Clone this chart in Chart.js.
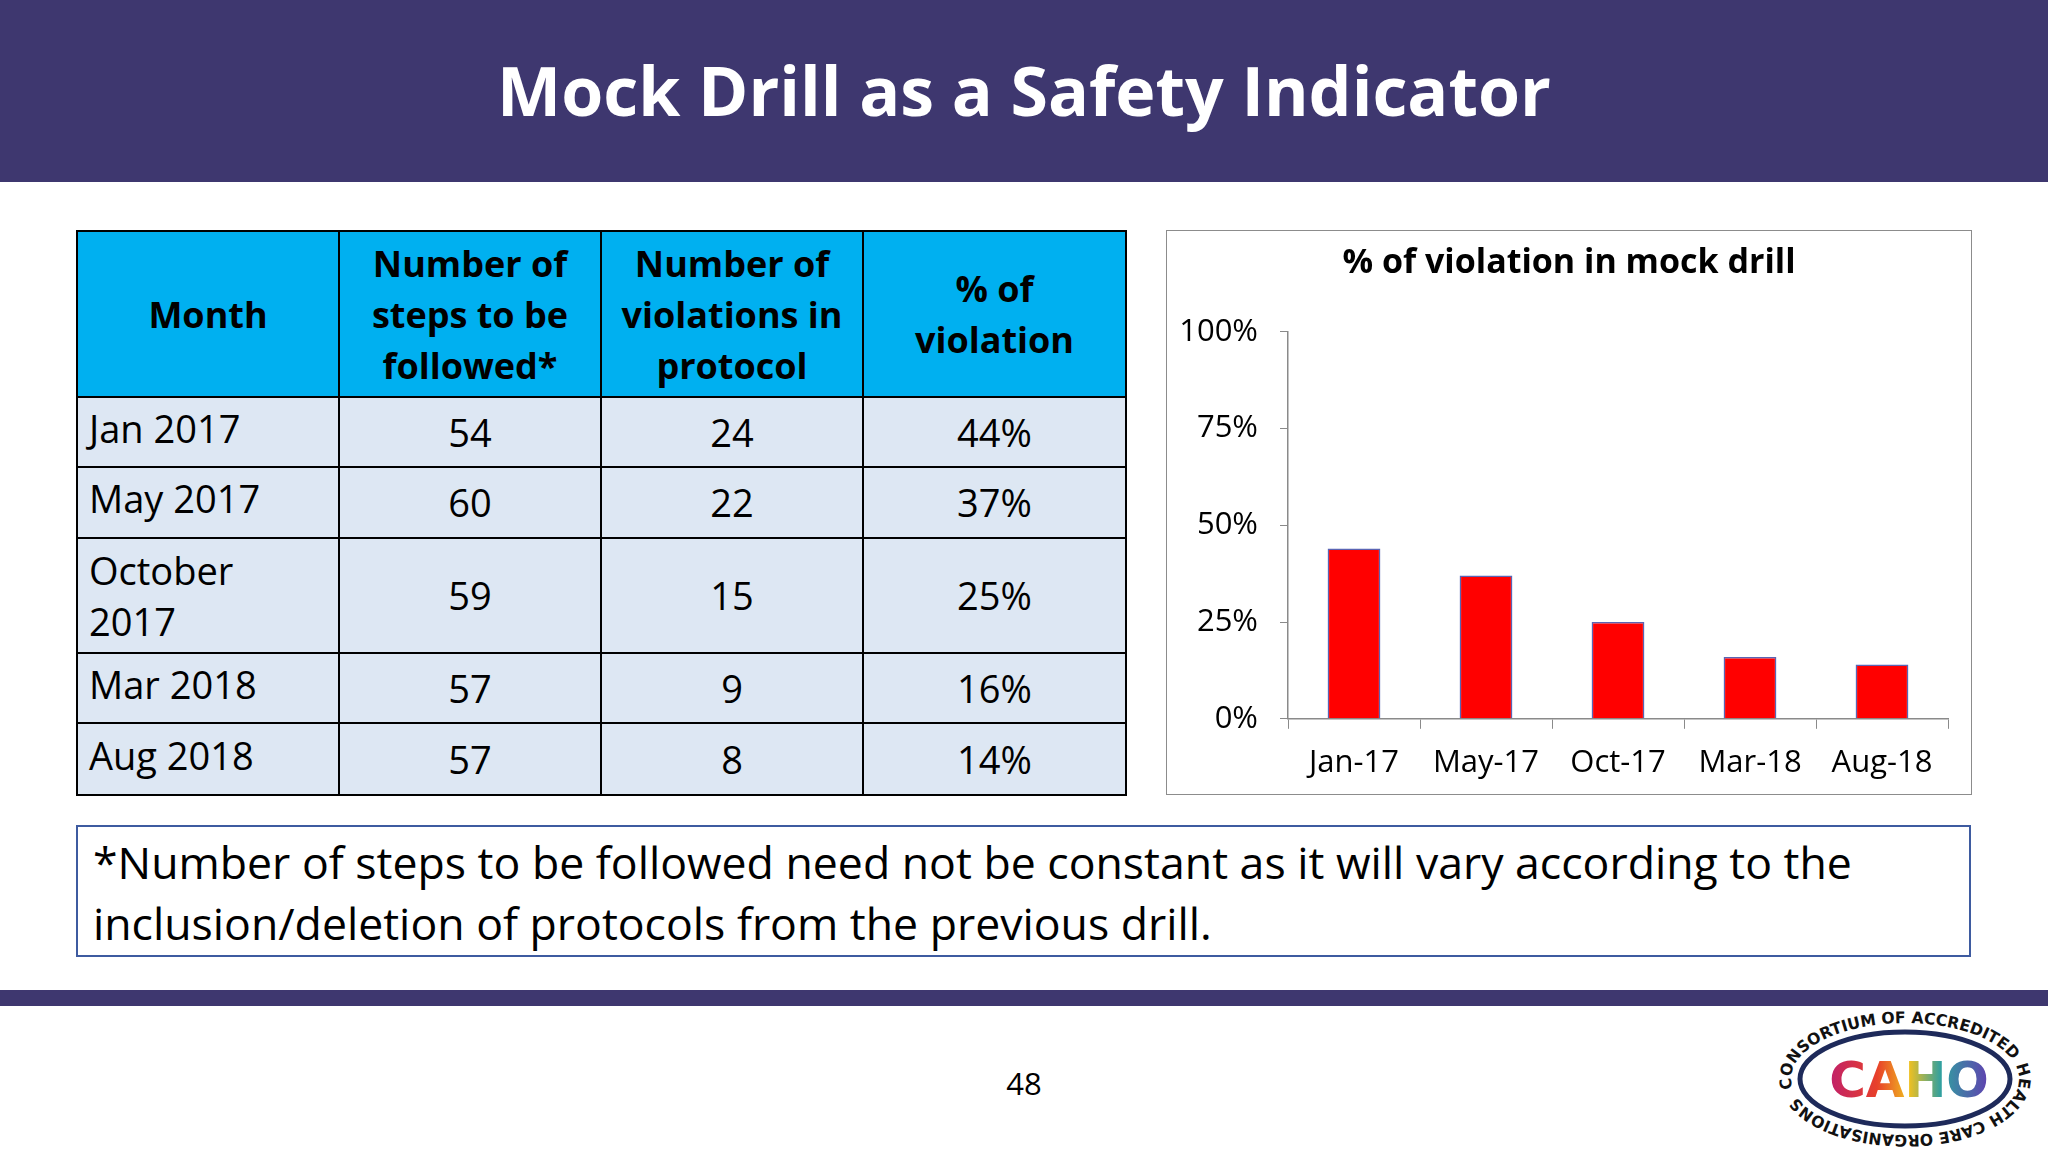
<!DOCTYPE html>
<html>
<head>
<meta charset="utf-8">
<script src="https://cdn.jsdelivr.net/npm/chart.js@4.4.1/dist/chart.umd.min.js"></script>
<style>
  html, body { margin: 0; padding: 0; background: #ffffff; }
  body { width: 2048px; height: 1152px; position: relative; overflow: hidden; font-family: 'Open Sans', sans-serif; }
  #header { position: absolute; left: 0; top: 0; width: 2048px; height: 182px; background: #3e376f; }
  #header h1 { margin: 0; position: absolute; left: 0; right: 0; top: 44px; text-align: center; color: #fff; font-size: 68px; font-weight: 700; line-height: 92px; }
  #dataTable { position: absolute; left: 76px; top: 230px; border-collapse: collapse; table-layout: fixed; }
  #dataTable td, #dataTable th { border: 2px solid #000; padding: 0; }
  #dataTable th { background: #00b0f0; color: #000; font-size: 36px; font-weight: 700; line-height: 51px; text-align: center; vertical-align: middle; }
  #dataTable td { background: #dde7f3; font-size: 38px; line-height: 51px; text-align: center; vertical-align: middle; color: #000; }
  #dataTable td.month { text-align: left; padding-left: 11px; }
  #dataTable td.single { padding-bottom: 8px; }
  #chartBox { position: absolute; left: 1166px; top: 230px; width: 804px; height: 563px; border: 1px solid #8c8c8c; background: #fff; }
  #note { position: absolute; left: 76px; top: 825px; width: 1891px; height: 128px; border: 2px solid #3e5ba0; }
  #note p { margin: 0; position: absolute; left: 15px; top: 4px; font-size: 44.6px; line-height: 61px; color: #000; white-space: nowrap; }
  #footerBar { position: absolute; left: 0; top: 990px; width: 2048px; height: 16px; background: #3e376f; }
  #pageNum { position: absolute; left: 0; right: 0; top: 1062px; text-align: center; font-size: 31px; color: #000; }
  #logo { position: absolute; left: 1770px; top: 1006px; }
</style>
</head>
<body>
<div id="header"><h1>Mock Drill as a Safety Indicator</h1></div>

<table id="dataTable">
  <colgroup><col style="width:262px"><col style="width:262px"><col style="width:262px"><col style="width:263px"></colgroup>
  <thead>
    <tr style="height:166px">
      <th>Month</th>
      <th>Number of steps to be followed*</th>
      <th>Number of violations in protocol</th>
      <th>% of<br>violation</th>
    </tr>
  </thead>
  <tbody id="tableBody"></tbody>
</table>

<div id="chartBox"><canvas id="violationChart" width="804" height="563"></canvas></div>

<div id="note"><p>*Number of steps to be followed need not be constant as it will vary according to the<br>inclusion/deletion of protocols from the previous drill.</p></div>

<div id="footerBar"></div>
<div id="pageNum">48</div>

<svg id="logo" width="278" height="146" viewBox="0 0 278 146">
  <defs>
    <linearGradient id="cahoGrad" x1="0" x2="1" y1="0" y2="0">
      <stop offset="0" stop-color="#c0206a"/>
      <stop offset="0.3" stop-color="#e8402a"/>
      <stop offset="0.5" stop-color="#f0c020"/>
      <stop offset="0.7" stop-color="#30a0a0"/>
      <stop offset="1" stop-color="#6040b0"/>
    </linearGradient>
    <!-- clockwise ellipse starting just below the left middle -->
    <path id="ring" d="M 22.7 82.7 A 114 56 0 0 1 247.3 63.3 A 114 56 0 0 1 22.7 82.7"/>
  </defs>
  <ellipse cx="135" cy="73" rx="105" ry="47" fill="none" stroke="#1e2a5a" stroke-width="5"/>
  <text x="139" y="91" text-anchor="middle" font-family="'DejaVu Sans'" font-weight="700" font-size="50" fill="url(#cahoGrad)">CAHO</text>
  <text font-family="'DejaVu Sans'" font-weight="700" font-size="16" fill="#111"><textPath href="#ring" textLength="540" lengthAdjust="spacingAndGlyphs">CONSORTIUM OF ACCREDITED HEALTH CARE ORGANISATIONS</textPath></text>
</svg>

<script>
// table data
const months = ['Jan 2017', 'May 2017', 'October 2017', 'Mar 2018', 'Aug 2018'];
const stepsFollowed = [54, 60, 59, 57, 57];
const violations = [24, 22, 15, 9, 8];
const violationPct = [44, 37, 25, 16, 14];
const rowHeights = [70, 71, 115, 70, 72];

// chart data
const chartLabels = ['Jan-17', 'May-17', 'Oct-17', 'Mar-18', 'Aug-18'];
const yTicks = [0, 25, 50, 75, 100];

// Build table rows
const tbody = document.getElementById('tableBody');
months.forEach((m, i) => {
    const tr = document.createElement('tr');
    tr.style.height = rowHeights[i] + 'px';
    const cells = [m, stepsFollowed[i], violations[i], violationPct[i] + '%'];
    cells.forEach((c, j) => {
        const td = document.createElement('td');
        if (j === 0) {
            td.className = 'month';
            if (m === 'October 2017') {
                td.innerHTML = 'October<br>2017';
            } else {
                td.classList.add('single');
                td.textContent = m;
            }
        } else {
            td.textContent = c;
        }
        tr.appendChild(td);
    });
    tbody.appendChild(tr);
});

// Bar chart
const axisColor = '#8a8a8a';
new Chart(document.getElementById('violationChart'), {
    type: 'bar',
    data: {
        labels: chartLabels,
        datasets: [{
            label: '% of violation',
            data: violationPct,
            backgroundColor: '#ff0000',
            borderColor: '#5a64b4',
            borderWidth: 1.5,
            barPercentage: 0.4,
            categoryPercentage: 1.0
        }]
    },
    options: {
        responsive: false,
        animation: false,
        layout: { padding: 0 },
        plugins: {
            legend: { display: false },
            tooltip: { enabled: false },
            title: {
                display: true,
                text: '% of violation in mock drill',
                color: '#000',
                font: { family: 'Open Sans', size: 34, weight: 'bold' },
                padding: { top: 12, bottom: 48 }
            }
        },
        scales: {
            y: {
                min: 0,
                max: 100,
                afterBuildTicks: (scale) => { scale.ticks = yTicks.map(v => ({ value: v })); },
                afterFit: (scale) => { scale.width = 121; },
                ticks: {
                    color: '#000',
                    font: { family: 'Open Sans', size: 31 },
                    padding: 22,
                    callback: (v) => v + '%'
                },
                grid: { drawOnChartArea: false, color: axisColor, tickLength: 8 },
                border: { color: axisColor, width: 1.5 }
            },
            x: {
                afterFit: (scale) => { scale.height -= 4; scale.paddingRight = 23; },
                ticks: {
                    color: '#000',
                    font: { family: 'Open Sans', size: 31 },
                    padding: 16
                },
                grid: { drawOnChartArea: false, offset: true, color: axisColor, tickLength: 10 },
                border: { color: axisColor, width: 1.5 }
            }
        }
    }
});
</script>
</body>
</html>
